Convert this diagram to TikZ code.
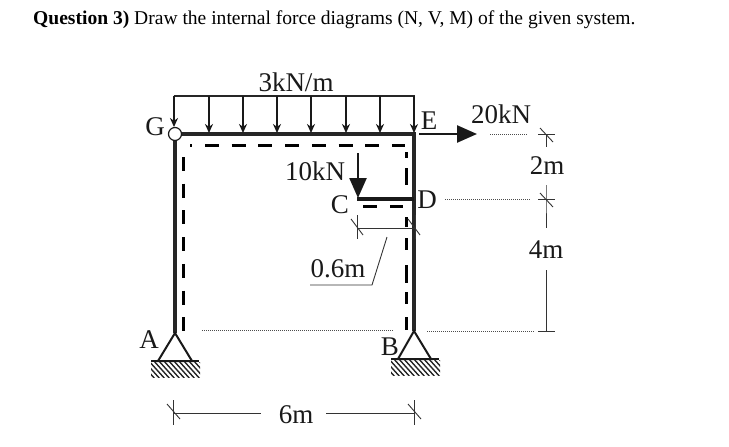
\documentclass[tikz,border=0pt]{standalone}
\usepackage{fontspec}
\setmainfont{Liberation Serif}
\usetikzlibrary{arrows.meta}
\tikzset{x=1pt,y=-1pt,
 lbl/.style={inner sep=0pt,font=\fontsize{27}{27}\selectfont,text=black!90},
 frame/.style={line width=4pt,draw=black!85},
 ldarrow/.style={line width=1.5pt,draw=black!90,-{Stealth[length=9pt,width=8pt]}},
 bigarrow/.style={line width=2.4pt,draw=black!90,-{Triangle[length=20pt,width=17pt]}},
 dashline/.style={line width=3pt,draw=black,dash pattern=on 14pt off 12.7pt},
 fibre/.style={line width=3pt,draw=black},
 dimline/.style={line width=.9pt,draw=black!80},
 dotline/.style={line width=1pt,draw=black!70,dash pattern=on 1pt off 1pt},
 sup/.style={line width=2pt,draw=black!90},
 hatchline/.style={line width=1.4pt,draw=black!85}
}
\begin{document}
\begin{tikzpicture}
\useasboundingbox (0,0) rectangle (729,447);
\node[anchor=base west,inner sep=0pt,font=\fontsize{19.55}{20}\selectfont] (title) at (33,24) {\textbf{Question 3)} Draw the internal force diagrams (N, V, M) of the given system.};
% key points
\coordinate (G) at (175,134);
\coordinate (E) at (414,134);
\coordinate (D) at (414,199);
\coordinate (C) at (357,199);
\coordinate (Atop) at (175,333);
\coordinate (Btop) at (414,331);
% frame
\draw[frame] (Atop) -- (175,140);
\draw[frame] (181,134) -- (416,134);
\draw[frame] (E) -- (Btop);
\draw[line width=3.4pt,draw=black!90] (C) -- (D);
\node[circle,draw=black!90,line width=1.2pt,fill=white,minimum size=13pt,inner sep=0pt] (hinge) at (G) {};
% distributed load
\draw[line width=1.2pt,draw=black!85] (173.5,96) -- (414.5,96);
\foreach \x in {174,209,243,277,311,346,380,414}{
  \draw[ldarrow] (\x,96) -- (\x,\ifnum\x=174 127\else 133\fi);
}
% dashed fibres
\draw[dashline] (190,145) -- (192,145);
\draw[dashline] (205,145) -- (405,145);
\draw[dashline] (183,157) -- (183,332);
\foreach \a/\b in {152/158,168/185,217/227,238/250,265/283,292/304,317/330}{
  \draw[fibre] (406.5,\a) -- (406.5,\b);
}
\draw[fibre] (363,206) -- (377,206);
\draw[fibre] (390,206) -- (403,206);
% 10kN
\coordinate (Ftop) at (358,153);
\draw[bigarrow] (Ftop) -- (358,198);
% 20kN
\coordinate (Hs) at (419,134);
\draw[bigarrow] (Hs) -- (477,134);
% supports
\draw[sup,line join=miter] (Atop) -- (158,361) -- (192,361) -- cycle;
\draw[sup] (151,361) -- (199,361);
\draw[sup,line join=miter] (Btop) -- (398,359) -- (431,359) -- cycle;
\draw[sup] (391,359) -- (439,359);
\begin{scope}
\clip (151,362) rectangle (200,377);
\foreach \i in {-3,...,10}{\draw[hatchline] ({148+5*\i},360) -- ({166+5*\i},380);}
\end{scope}
\begin{scope}
\clip (391,360) rectangle (440,375);
\foreach \i in {-3,...,10}{\draw[hatchline] ({388+5*\i},358) -- ({406+5*\i},378);}
\end{scope}
% dotted
\draw[dotline] (202,330) -- (393,330);
\draw[dotline] (427,331) -- (535,331);
\draw[dotline] (445,199) -- (530,199);
\draw[dotline] (490,134) -- (527,134);
% vertical dimension
\coordinate (d0) at (546,134); \coordinate (d1) at (546,199); \coordinate (d2) at (546,331);
\draw[dimline] (d0) -- (546,147);
\draw[dimline] (546,185) -- (d1) -- (546,228);
\draw[dimline] (546,270) -- (d2);
\draw[dimline] (538,331) -- (555,331);
\draw[dimline] (538,134) -- (555,134);
\draw[dimline] (540,128) -- (553,142);
\draw[dimline] (538,199) -- (555,199);
\draw[dimline] (540,193) -- (553,207);
% 6m dimension
\coordinate (h0) at (173,413); \coordinate (h1) at (414,413);
\draw[dimline] (h0) -- (261,413);
\draw[dimline] (326,413) -- (h1);
\draw[dimline] (173,400) -- (173,425);
\draw[dimline] (167,404) -- (180,419);
\draw[dimline] (414,400) -- (414,425);
\draw[dimline] (408,404) -- (421,419);
% 0.6m dimension
\draw[dimline] (357,228) -- (415,228);
\draw[dimline] (357,215) -- (357,239);
\draw[dimline] (351,219) -- (363,235);
\draw[dimline] (415,215) -- (415,239);
\draw[dimline] (408,219) -- (420,235);
\draw[dimline] (387,237) -- (372,285) -- (310,285);
% labels
\node[lbl] (load) at (296,82) {3kN/m};
\node[lbl] (g) at (155,127) {G};
\node[lbl] (e) at (429,121) {E};
\node[lbl] (f2) at (501,114) {20kN};
\node[lbl] (f1) at (315,171) {10kN};
\node[lbl] (c) at (340,205) {C};
\node[lbl] (d) at (427,200) {D};
\node[lbl] (s2) at (547,166) {2m};
\node[lbl] (s4) at (546,250) {4m};
\node[lbl] (s06) at (338,269) {0.6m};
\node[lbl] (a) at (149,340) {A};
\node[lbl] (b) at (390,347) {B};
\node[lbl] (s6) at (296,415) {6m};
\end{tikzpicture}
\end{document}
